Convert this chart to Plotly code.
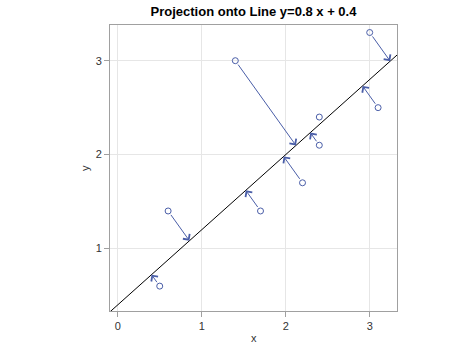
import plotly.graph_objects as go

# Data
px_vals = [0.5, 0.6, 1.4, 1.7, 2.2, 2.4, 2.4, 3.0, 3.1]
py_vals = [0.6, 1.4, 3.0, 1.4, 1.7, 2.4, 2.1, 3.3, 2.5]
slope = 0.8
intercept = 0.4
x_ticks = [0, 1, 2, 3]
y_ticks = [1, 2, 3]
x_range = [-0.092, 3.325]
y_range = [0.335, 3.38]

blue = "#4A5EA8"
font_family = "Liberation Sans, Arial"

def project(x, y):
    t = (x + slope * (y - intercept)) / (1 + slope ** 2)
    return t, slope * t + intercept

proj = [project(x, y) for x, y in zip(px_vals, py_vals)]

fig = go.Figure()
fig.add_trace(go.Scatter(
    x=x_range, y=[slope * v + intercept for v in x_range],
    mode="lines", line=dict(color="black", width=1), hoverinfo="skip", showlegend=False))

for (x, y), (qx, qy) in zip(zip(px_vals, py_vals), proj):
    fig.add_annotation(x=qx, y=qy, ax=x, ay=y, xref="x", yref="y", axref="x", ayref="y",
                       showarrow=True, arrowhead=4, arrowsize=1.6, arrowwidth=1,
                       arrowcolor=blue, text="", standoff=0, startstandoff=3)

fig.add_trace(go.Scatter(
    x=px_vals, y=py_vals, mode="markers",
    marker=dict(symbol="circle-open", size=6, color=blue, line=dict(width=1, color=blue)),
    showlegend=False))

axis_common = dict(showgrid=True, gridcolor="#E6E6E6", gridwidth=1, zeroline=False,
                   showline=True, linecolor="#A0A0A0", linewidth=1, mirror=True,
                   ticks="outside", ticklen=5, tickcolor="#A0A0A0", automargin=False,
                   tickfont=dict(family=font_family, size=11, color="#333333"))

fig.update_xaxes(range=x_range, tickvals=x_ticks, **axis_common)
fig.update_yaxes(range=y_range, tickvals=y_ticks, **axis_common)

fig.add_annotation(text="x", xref="paper", yref="paper", x=0.5, y=-0.094,
                   showarrow=False, xanchor="center", yanchor="middle",
                   font=dict(family=font_family, size=11, color="#333333"))
fig.add_annotation(text="y", xref="paper", yref="paper", x=-0.087, y=0.5, textangle=-90,
                   showarrow=False, xanchor="center", yanchor="middle",
                   font=dict(family=font_family, size=11, color="#333333"))

fig.update_layout(
    width=474, height=355,
    margin=dict(l=110, r=77, t=25, b=44),
    plot_bgcolor="white", paper_bgcolor="white",
    title=dict(text="<b>Projection onto Line y=0.8 x + 0.4</b>", x=0.5, xref="paper",
               y=0.968, yanchor="middle",
               font=dict(family=font_family, size=13, color="black")),
)

fig.write_html("out.html")
